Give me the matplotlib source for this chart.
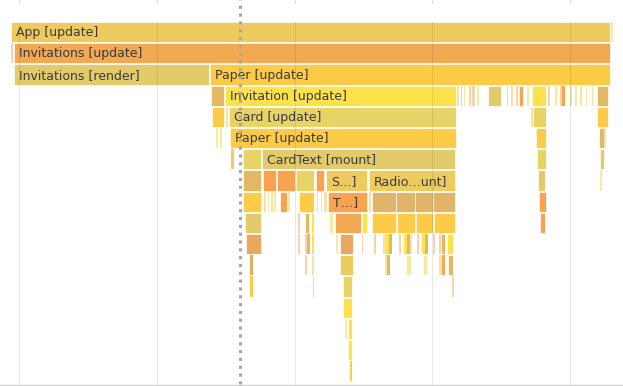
import matplotlib
matplotlib.use('Agg')
import matplotlib.pyplot as plt

# colour keys used by the flame graph nodes
PALETTE = {
    'gold': '#EDCB5E', 'orange': '#F2A954', 'khaki': '#E3CB6B', 'amber': '#FECB47',
    'yellow': '#FDE24A', 'olive': '#E8D466', 'tan': '#E2B862', 'deep': '#F9A24F',
    'sand': '#E2B46A', 'rust': '#E8A860', 'lt': '#FBE1A8', 'lto': '#F8D3AE',
    'lty': '#F8EBA0',
}

# one list per call-stack depth: (start, end, colour, label), time in px-units
row0 = [(11, 610, 'gold', 'App [update]'), (611, 613, 'lty', '')]
row1 = [(11, 13, 'lto', ''), (14, 610, 'orange', 'Invitations [update]')]
row2 = [(14, 209, 'khaki', 'Invitations [render]'), (210, 610, 'amber', 'Paper [update]')]
row3 = [(211, 224, 'tan', ''), (225, 456, 'yellow', 'Invitation [update]'),
        (457, 459, 'lt', ''), (461, 462, 'lto', ''), (464, 465, 'lty', ''),
        (469, 471, 'lto', ''), (472, 475, 'lto', ''), (477, 479, 'lty', ''),
        (488, 501, 'khaki', ''), (507, 508, 'lto', ''), (511, 513, 'lt', ''),
        (516, 518, 'lto', ''), (519, 523, 'deep', ''), (527, 529, 'lty', ''),
        (532, 546, 'yellow', ''), (548, 550, 'lto', ''), (555, 557, 'lty', ''),
        (560, 562, 'lto', ''), (562, 565, 'deep', ''), (570, 572, 'lt', ''),
        (575, 577, 'lty', ''), (580, 582, 'lt', ''), (586, 587, 'lty', ''),
        (592, 593, 'lt', ''), (597, 608, 'tan', '')]
row4 = [(212, 224, 'amber', ''), (226, 228, 'lt', ''), (229, 456, 'olive', 'Card [update]'),
        (531, 533, 'lt', ''), (533, 546, 'olive', ''), (597, 608, 'amber', '')]
row5 = [(216, 218, 'lty', ''), (220, 222, 'lty', ''), (230, 456, 'amber', 'Paper [update]'),
        (536, 546, 'amber', ''), (599, 604, 'tan', ''), (604, 606, 'lt', '')]
row6 = [(231, 234, 'amber', ''), (243, 261, 'olive', ''), (262, 455, 'khaki', 'CardText [mount]'),
        (537, 546, 'olive', ''), (600, 604, 'khaki', '')]
row7 = [(243, 261, 'tan', ''), (263, 276, 'deep', ''), (277, 295, 'deep', ''),
        (296, 314, 'olive', ''), (316, 324, 'deep', ''), (326, 367, 'gold', 'S…]'),
        (369, 455, 'gold', 'Radio…unt]'), (538, 545, 'khaki', ''), (600, 602, 'lty', '')]
row8 = [(243, 261, 'amber', ''), (264, 266, 'lt', ''), (268, 269, 'lty', ''),
        (271, 273, 'lt', ''), (274, 276, 'lty', ''), (280, 287, 'deep', ''),
        (288, 290, 'lt', ''), (299, 314, 'amber', ''), (317, 318, 'lt', ''),
        (321, 322, 'lty', ''), (324, 327, 'lt', ''), (328, 367, 'deep', 'T…]'),
        (369, 371, 'lt', ''), (372, 396, 'sand', ''), (396, 415, 'sand', ''),
        (415, 433, 'sand', ''), (433, 455, 'sand', ''), (539, 546, 'deep', '')]
row9 = [(245, 261, 'khaki', ''), (298, 300, 'lto', ''), (305, 309, 'tan', ''),
        (312, 314, 'yellow', ''), (330, 333, 'lty', ''), (335, 361, 'orange', ''),
        (362, 367, 'yellow', ''), (372, 396, 'amber', ''), (397, 415, 'amber', ''),
        (416, 433, 'amber', ''), (434, 455, 'amber', ''), (540, 545, 'deep', '')]
row10 = [(246, 261, 'rust', ''), (298, 300, 'lto', ''), (305, 307, 'lto', ''),
         (307, 310, 'tan', ''), (312, 314, 'yellow', ''), (336, 338, 'lty', ''),
         (340, 353, 'rust', ''), (362, 363, 'lto', ''), (374, 376, 'lto', ''),
         (383, 386, 'lt', ''), (386, 389, 'yellow', ''), (389, 392, 'tan', ''),
         (399, 401, 'lto', ''), (404, 407, 'yellow', ''), (407, 410, 'tan', ''),
         (410, 412, 'lt', ''), (417, 419, 'lto', ''), (422, 425, 'yellow', ''),
         (425, 428, 'tan', ''), (433, 435, 'lto', ''), (439, 441, 'lto', ''),
         (441, 445, 'tan', ''), (447, 453, 'yellow', '')]
row11 = [(250, 253, 'rust', ''), (305, 307, 'lto', ''), (312, 314, 'lt', ''),
         (340, 353, 'gold', ''), (385, 387, 'lt', ''), (387, 390, 'tan', ''),
         (406, 411, 'lty', ''), (423, 427, 'lty', ''), (439, 442, 'lt', ''),
         (442, 445, 'orange', ''), (448, 453, 'tan', '')]
row12 = [(250, 253, 'amber', ''), (313, 314, 'lto', ''), (343, 352, 'olive', ''),
         (452, 454, 'lto', '')]
row13 = [(343, 352, 'yellow', '')]
row14 = [(345, 347, 'lty', ''), (348, 352, 'yellow', '')]
row15 = [(348, 352, 'yellow', '')]
row16 = [(350, 352, 'amber', '')]

rows = [row0, row1, row2, row3, row4, row5, row6, row7, row8,
        row9, row10, row11, row12, row13, row14, row15, row16]

grid_times = [19, 156.75, 294.5, 432.25, 570]
cursor_time = 240

W, H = 623, 386
ROW_PX = 21.2
BAR_H = 0.95

fig = plt.figure(figsize=(W / 100, H / 100), dpi=100)
ax = fig.add_axes([0, 0, 1, 1])
top = -BAR_H / 2 - 22 / ROW_PX
ax.set_xlim(0, W)
ax.set_ylim(top + H / ROW_PX, top)
ax.axis('off')

for depth, nodes in enumerate(rows):
    for start, end, ckey, label in nodes:
        width = end - start
        ax.barh(depth, width, left=start, height=BAR_H, color=PALETTE[ckey],
                edgecolor='white', linewidth=0.5 if width >= 4 else 0, zorder=2)
        if label:
            ax.text(start + 5, depth + 0.03, label, va='center', ha='left',
                    fontsize=9, color='#3A3A3A', family='DejaVu Sans', zorder=4)

grid_top = 1 - 22 / H
for t in grid_times:
    ax.axvline(t, ymin=0.004, ymax=grid_top, color='black', alpha=0.09, lw=0.8, zorder=3)
    ax.axvline(t, ymin=1 - 2.5 / H, ymax=1, color='black', alpha=0.15, lw=0.8, zorder=3)

# dotted cursor line
ax.axvline(cursor_time, ymin=0.004, ymax=1, color='#A8A8A8', lw=2.3,
           linestyle=(0, (1, 1.45)), zorder=5)
ax.axhline(top + 384.5 / ROW_PX, color='#CFCFCF', lw=1, zorder=5)

fig.savefig('out.png', dpi=100)
